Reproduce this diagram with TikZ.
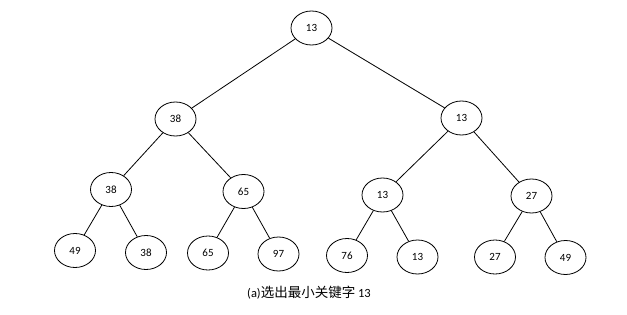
\documentclass[tikz,border=0pt]{standalone}
\usepackage{fontspec}
\setmainfont{Carlito}
\newfontfamily\cjk{Noto Sans CJK SC}
\usetikzlibrary{shapes.geometric}
\newcommand\nlab[1]{\raisebox{-3pt}{#1}}
\tikzset{
  hnode/.style={draw, ellipse, line width=0.8pt, minimum width=41pt, minimum height=34pt, inner sep=0pt, font=\fontsize{11}{13}\selectfont},
  hedge/.style={line width=0.8pt}
}
\begin{document}
\begin{tikzpicture}[x=1pt,y=-1pt]
\useasboundingbox (0,0) rectangle (627,314);
\node[hnode] (r) at (311.5,28) {\nlab{13}};
\node[hnode] (a) at (175.5,119) {\nlab{38}};
\node[hnode] (b) at (461.5,118) {\nlab{13}};
\node[hnode] (a1) at (111,189.5) {\nlab{38}};
\node[hnode] (a2) at (243.5,191.5) {\nlab{65}};
\node[hnode] (b1) at (382.5,195) {\nlab{13}};
\node[hnode] (b2) at (531.5,196) {\nlab{27}};
\node[hnode] (l1) at (75,250.5) {\nlab{49}};
\node[hnode] (l2) at (146,252.5) {\nlab{38}};
\node[hnode] (l3) at (208,253) {\nlab{65}};
\node[hnode] (l4) at (278.5,254) {\nlab{97}};
\node[hnode] (l5) at (347,255.5) {\nlab{76}};
\node[hnode] (l6) at (417.5,257) {\nlab{13}};
\node[hnode] (l7) at (495,257) {\nlab{27}};
\node[hnode] (l8) at (565.5,257.5) {\nlab{49}};
\draw[hedge] (r) -- (a);
\draw[hedge] (r) -- (b);
\draw[hedge] (a) -- (a1);
\draw[hedge] (a) -- (a2);
\draw[hedge] (b) -- (b1);
\draw[hedge] (b) -- (b2);
\draw[hedge] (a1) -- (l1);
\draw[hedge] (a1) -- (l2);
\draw[hedge] (a2) -- (l3);
\draw[hedge] (a2) -- (l4);
\draw[hedge] (b1) -- (l5);
\draw[hedge] (b1) -- (l6);
\draw[hedge] (b2) -- (l7);
\draw[hedge] (b2) -- (l8);
\node[inner sep=0pt, font=\fontsize{12.5}{14}\selectfont] (cap) at (309,293) {(a){\cjk\fontsize{13.5}{14}\selectfont 选出最小关键字} 13};
\end{tikzpicture}
\end{document}
